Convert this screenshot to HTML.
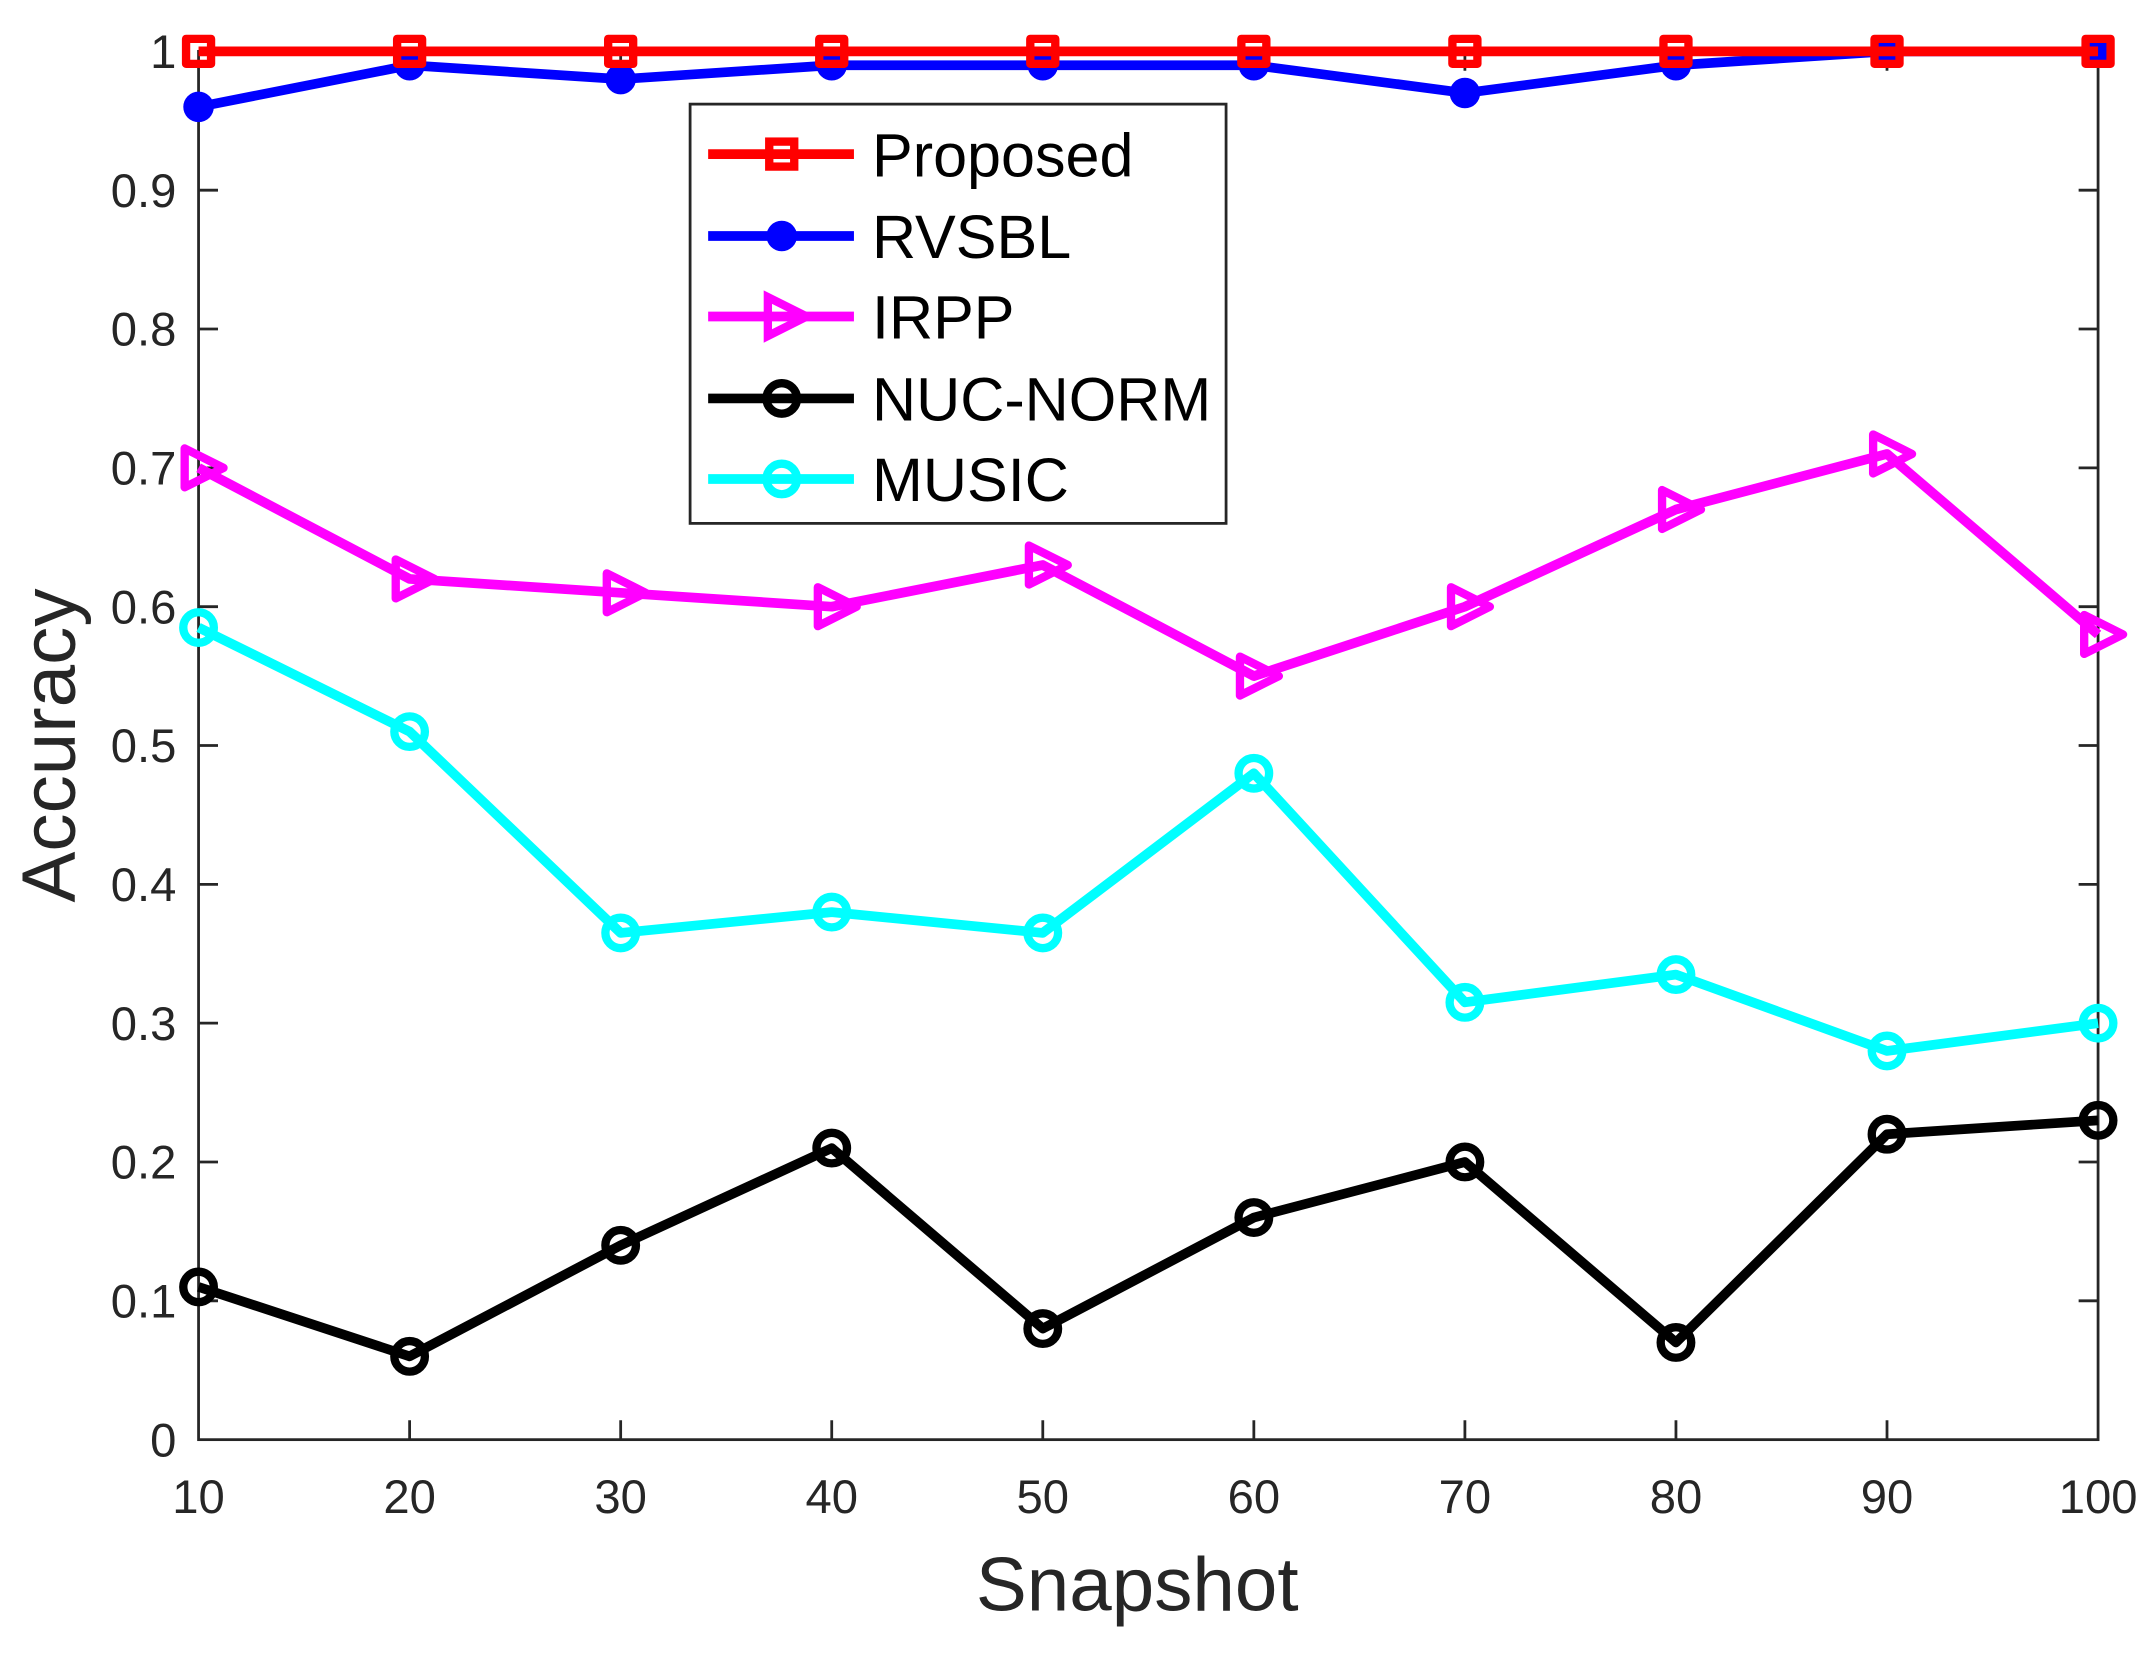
<!DOCTYPE html>
<html><head><style>html,body{margin:0;padding:0;background:#fff}svg{display:block}</style></head>
<body>
<svg width="2155" height="1659" viewBox="0 0 1552 1195" preserveAspectRatio="none" xmlns="http://www.w3.org/2000/svg" font-family="Liberation Sans, sans-serif" fill="#262626">
<rect width="1552" height="1195" fill="#fff"/>
<g stroke="#262626" stroke-width="2" fill="none">
<rect x="143" y="37" width="1368" height="1000"/>
<path d="M295,1037v-14M447,1037v-14M599,1037v-14M751,1037v-14M903,1037v-14M1055,1037v-14M1207,1037v-14M1359,1037v-14
M295,37v14M447,37v14M599,37v14M751,37v14M903,37v14M1055,37v14M1207,37v14M1359,37v14
M143,937h14M143,837h14M143,737h14M143,637h14M143,537h14M143,437h14M143,337h14M143,237h14M143,137h14
M1511,937h-14M1511,837h-14M1511,737h-14M1511,637h-14M1511,537h-14M1511,437h-14M1511,337h-14M1511,237h-14M1511,137h-14"/>
</g>
<g font-size="34" text-anchor="end">
<text x="127" y="1049">0</text><text x="127" y="949">0.1</text><text x="127" y="849">0.2</text><text x="127" y="749">0.3</text><text x="127" y="649">0.4</text><text x="127" y="549">0.5</text><text x="127" y="449">0.6</text><text x="127" y="349">0.7</text><text x="127" y="249">0.8</text><text x="127" y="149">0.9</text><text x="127" y="49">1</text>
</g>
<g font-size="34" text-anchor="middle">
<text x="143" y="1090">10</text><text x="295" y="1090">20</text><text x="447" y="1090">30</text><text x="599" y="1090">40</text><text x="751" y="1090">50</text><text x="903" y="1090">60</text><text x="1055" y="1090">70</text><text x="1207" y="1090">80</text><text x="1359" y="1090">90</text><text x="1511" y="1090">100</text>
</g>
<text x="819" y="1160" font-size="55" text-anchor="middle">Snapshot</text>
<text transform="translate(54,537) rotate(-90)" font-size="55" text-anchor="middle">Accuracy</text>

<g fill="none" stroke-width="7" stroke-linejoin="round">
<polyline stroke="#000" points="143,927 295,977 447,897 599,827 751,957 903,877 1055,837 1207,967 1359,817 1511,807"/>
<g stroke="#000" stroke-width="6"><circle cx="143" cy="927" r="11"/><circle cx="295" cy="977" r="11"/><circle cx="447" cy="897" r="11"/><circle cx="599" cy="827" r="11"/><circle cx="751" cy="957" r="11"/><circle cx="903" cy="877" r="11"/><circle cx="1055" cy="837" r="11"/><circle cx="1207" cy="967" r="11"/><circle cx="1359" cy="817" r="11"/><circle cx="1511" cy="807" r="11"/></g>
<polyline stroke="#0ff" points="143,452 295,527 447,672 599,657 751,672 903,557 1055,722 1207,702 1359,757 1511,737"/>
<g stroke="#0ff" stroke-width="6"><circle cx="143" cy="452" r="11"/><circle cx="295" cy="527" r="11"/><circle cx="447" cy="672" r="11"/><circle cx="599" cy="657" r="11"/><circle cx="751" cy="672" r="11"/><circle cx="903" cy="557" r="11"/><circle cx="1055" cy="722" r="11"/><circle cx="1207" cy="702" r="11"/><circle cx="1359" cy="757" r="11"/><circle cx="1511" cy="737" r="11"/></g>
<polyline stroke="#f0f" points="143,337 295,417 447,427 599,437 751,407 903,487 1055,437 1207,367 1359,327 1511,457"/>
<g stroke="#f0f" stroke-width="6">
<path d="M133,323 L161,337 L133,351Z"/><path d="M285,403 L313,417 L285,431Z"/><path d="M437,413 L465,427 L437,441Z"/><path d="M589,423 L617,437 L589,451Z"/><path d="M741,393 L769,407 L741,421Z"/><path d="M893,473 L921,487 L893,501Z"/><path d="M1045,423 L1073,437 L1045,451Z"/><path d="M1197,353 L1225,367 L1197,381Z"/><path d="M1349,313 L1377,327 L1349,341Z"/><path d="M1501,443 L1529,457 L1501,471Z"/>
</g>
<polyline stroke="#00f" points="143,77 295,47 447,57 599,47 751,47 903,47 1055,67 1207,47 1359,37 1511,37"/>
<g fill="#00f" stroke="none"><circle cx="143" cy="77" r="11"/><circle cx="295" cy="47" r="11"/><circle cx="447" cy="57" r="11"/><circle cx="599" cy="47" r="11"/><circle cx="751" cy="47" r="11"/><circle cx="903" cy="47" r="11"/><circle cx="1055" cy="67" r="11"/><circle cx="1207" cy="47" r="11"/><circle cx="1359" cy="37" r="11"/><circle cx="1511" cy="37" r="11"/></g>
<polyline stroke="#f00" points="143,37 1511,37"/>
<g stroke="#f00" stroke-width="6"><rect x="134" y="28" width="18" height="18"/><rect x="286" y="28" width="18" height="18"/><rect x="438" y="28" width="18" height="18"/><rect x="590" y="28" width="18" height="18"/><rect x="742" y="28" width="18" height="18"/><rect x="894" y="28" width="18" height="18"/><rect x="1046" y="28" width="18" height="18"/><rect x="1198" y="28" width="18" height="18"/><rect x="1350" y="28" width="18" height="18"/><rect x="1502" y="28" width="18" height="18"/></g>
</g>

<rect x="497" y="75" width="386" height="302" fill="#fff" stroke="#262626" stroke-width="2"/>
<g fill="none" stroke-width="7">
<path d="M510,111H615" stroke="#f00"/><rect x="554" y="102" width="18" height="18" stroke="#f00" stroke-width="6"/>
<path d="M510,170H615" stroke="#00f"/><circle cx="563" cy="170" r="11" fill="#00f" stroke="none"/>
<path d="M510,228H615" stroke="#f0f"/><path d="M553,214 L581,228 L553,242Z" stroke="#f0f" stroke-width="6"/>
<path d="M510,287H615" stroke="#000"/><circle cx="563" cy="287" r="11" stroke="#000" stroke-width="6"/>
<path d="M510,345H615" stroke="#0ff"/><circle cx="563" cy="345" r="11" stroke="#0ff" stroke-width="6"/>
</g>
<g font-size="44" fill="#000">
<text x="628" y="127">Proposed</text><text x="628" y="186">RVSBL</text><text x="628" y="244">IRPP</text><text x="628" y="303">NUC-NORM</text><text x="628" y="361">MUSIC</text>
</g>
</svg>
</body></html>
